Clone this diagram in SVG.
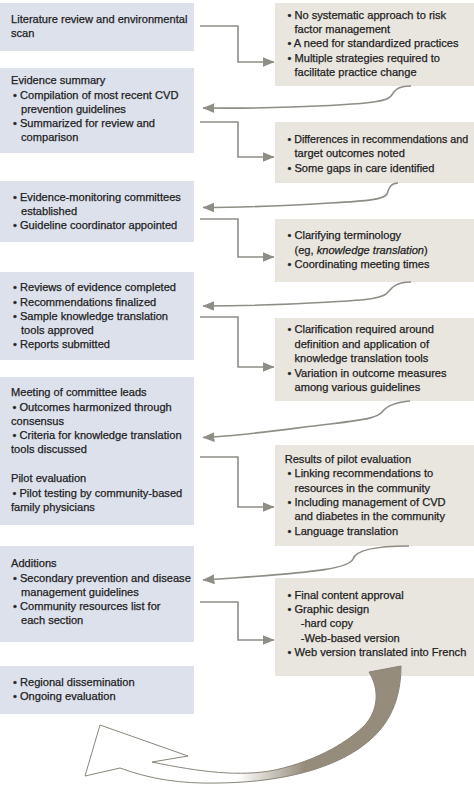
<svg xmlns="http://www.w3.org/2000/svg" width="474" height="788" viewBox="0 0 474 788">
<style>
.lb{fill:#dde1ec}
.rb{fill:#e9e6df}
text{font-family:"Liberation Sans",Arial,sans-serif;font-size:11.1px;fill:#222;stroke:#222;stroke-width:0.25}
.c{fill:none;stroke:#8e8d86;stroke-width:1.6}
</style>
<defs>
<marker id="ah" markerUnits="userSpaceOnUse" markerWidth="12" markerHeight="10" viewBox="0 0 11 9" refX="10.5" refY="4.5" orient="auto">
<path d="M0,0 L11,4.5 L0,9 z" fill="#8e8d86"/>
</marker>
<linearGradient id="gr" gradientUnits="userSpaceOnUse" x1="238" y1="0" x2="305" y2="0">
<stop offset="0" stop-color="#ffffff"/>
<stop offset="1" stop-color="#958c7b"/>
</linearGradient>
</defs>
<rect width="474" height="788" fill="#fff"/>

<g id="L1"><rect class="lb" x="0" y="3" width="194" height="48"/>
<text x="11" y="23">Literature review and environmental</text>
<text x="11" y="37">scan</text></g>

<g id="L2"><rect class="lb" x="0" y="68" width="194" height="85"/>
<text x="11" y="84">Evidence summary</text>
<text x="13" y="98.5">• Compilation of most recent CVD</text>
<text x="21" y="112.8">prevention guidelines</text>
<text x="13" y="127">• Summarized for review and</text>
<text x="21" y="141.3">comparison</text></g>

<g id="L3"><rect class="lb" x="0" y="181" width="194" height="61"/>
<text x="13" y="201">• Evidence-monitoring committees</text>
<text x="21" y="215">established</text>
<text x="13" y="229">• Guideline coordinator appointed</text></g>

<g id="L4"><rect class="lb" x="0" y="272" width="194" height="88"/>
<text x="13" y="291">• Reviews of evidence completed</text>
<text x="13" y="305.5">• Recommendations finalized</text>
<text x="13" y="320">• Sample knowledge translation</text>
<text x="21" y="334">tools approved</text>
<text x="13" y="348">• Reports submitted</text></g>

<g id="L5"><rect class="lb" x="0" y="377" width="194" height="148"/>
<text x="11" y="396">Meeting of committee leads</text>
<text x="12.5" y="410.5">• Outcomes harmonized through</text>
<text x="11" y="425">consensus</text>
<text x="12.5" y="439">• Criteria for knowledge translation</text>
<text x="11" y="453">tools discussed</text>
<text x="11" y="482">Pilot evaluation</text>
<text x="12.5" y="497">• Pilot testing by community-based</text>
<text x="11" y="511">family physicians</text></g>

<g id="L6"><rect class="lb" x="0" y="546" width="194" height="96"/>
<text x="11" y="567">Additions</text>
<text x="13" y="581.5">• Secondary prevention and disease</text>
<text x="21" y="595.7">management guidelines</text>
<text x="13" y="610">• Community resources list for</text>
<text x="21" y="624">each section</text></g>

<g id="L7"><rect class="lb" x="0" y="666" width="194" height="48"/>
<text x="13" y="685.7">• Regional dissemination</text>
<text x="13" y="700">• Ongoing evaluation</text></g>

<g id="R1"><rect class="rb" x="275" y="3" width="199" height="83"/>
<text x="287.5" y="18.5">• No systematic approach to risk</text>
<text x="294.5" y="33">factor management</text>
<text x="287.5" y="47">• A need for standardized practices</text>
<text x="287.5" y="61.5">• Multiple strategies required to</text>
<text x="294.5" y="76">facilitate practice change</text></g>

<g id="R2"><rect class="rb" x="275" y="122" width="199" height="61"/>
<text x="287.5" y="142.5" style="font-size:10.7px">• Differences in recommendations and</text>
<text x="294.5" y="157">target outcomes noted</text>
<text x="287.5" y="171.5">• Some gaps in care identified</text></g>

<g id="R3"><rect class="rb" x="275" y="219" width="199" height="63"/>
<text x="287.5" y="239.3">• Clarifying terminology</text>
<text x="294.5" y="253.5">(eg, <tspan font-style="italic">knowledge translation</tspan>)</text>
<text x="287.5" y="267.7">• Coordinating meeting times</text></g>

<g id="R4"><rect class="rb" x="275" y="318" width="199" height="83"/>
<text x="287.5" y="333.3">• Clarification required around</text>
<text x="294.5" y="347.7">definition and application of</text>
<text x="294.5" y="362.2">knowledge translation tools</text>
<text x="287.5" y="376.7">• Variation in outcome measures</text>
<text x="294.5" y="391">among various guidelines</text></g>

<g id="R5"><rect class="rb" x="275" y="445" width="199" height="101"/>
<text x="284.7" y="462.7">Results of pilot evaluation</text>
<text x="287.5" y="477.3">• Linking recommendations to</text>
<text x="294.5" y="491.7">resources in the community</text>
<text x="287.5" y="506">• Including management of CVD</text>
<text x="294.5" y="520.3">and diabetes in the community</text>
<text x="287.5" y="535">• Language translation</text></g>

<g id="R6"><rect class="rb" x="275" y="578" width="199" height="98"/>
<text x="287.5" y="599">• Final content approval</text>
<text x="287.5" y="613.3">• Graphic design</text>
<text x="300.7" y="627.4">-hard copy</text>
<text x="300.7" y="641.7">-Web-based version</text>
<text x="287.5" y="655.7">• Web version translated into French</text></g>

<g id="connectors">
<path class="c" d="M200,26 H238 V62 H274" marker-end="url(#ah)"/>
<path class="c" d="M200,122 H238 V157 H274" marker-end="url(#ah)"/>
<path class="c" d="M200,219 H238 V257 H274" marker-end="url(#ah)"/>
<path class="c" d="M200,317 H238 V367 H274" marker-end="url(#ah)"/>
<path class="c" d="M200,457 H238 V507 H274" marker-end="url(#ah)"/>
<path class="c" d="M200,602 H238 V640 H274" marker-end="url(#ah)"/>

<path class="c" d="M411,86 C397,86 394,91 391,96 C388,101 372,103 330,105.5 C280,108 240,108.5 203,108" marker-end="url(#ah)"/>
<path class="c" d="M398,183 C390,183 389,189 387,194 C384,199 370,201 330,203 C280,206 240,207.5 203,207.5" marker-end="url(#ah)"/>
<path class="c" d="M411,282 C397,282 392,287 388,292 C384,298 370,300 330,302 C280,305 240,306 203,306" marker-end="url(#ah)"/>
<path class="c" d="M410,401 C398,402 388,405 383,411 C378,417 372,419 330,424 C280,430 240,436 203,437.5" marker-end="url(#ah)"/>
<path class="c" d="M409,546 C375,546 356,550 353,559 C349,568 320,572 234,578 L203,580" marker-end="url(#ah)"/>

<path id="bigArrow" d="M369,672 L401,666 C401,690 395,712 380,730 C350,765 290,782 220,783 C180,784 150,779 120,768 L85,776 L100,725 L188,756 L152,762 C200,772 240,777 275,770 C320,760 350,740 365,725 C378,710 380,690 369,672 Z" fill="url(#gr)" stroke="#8a857a" stroke-width="1"/>
</g>
</svg>
